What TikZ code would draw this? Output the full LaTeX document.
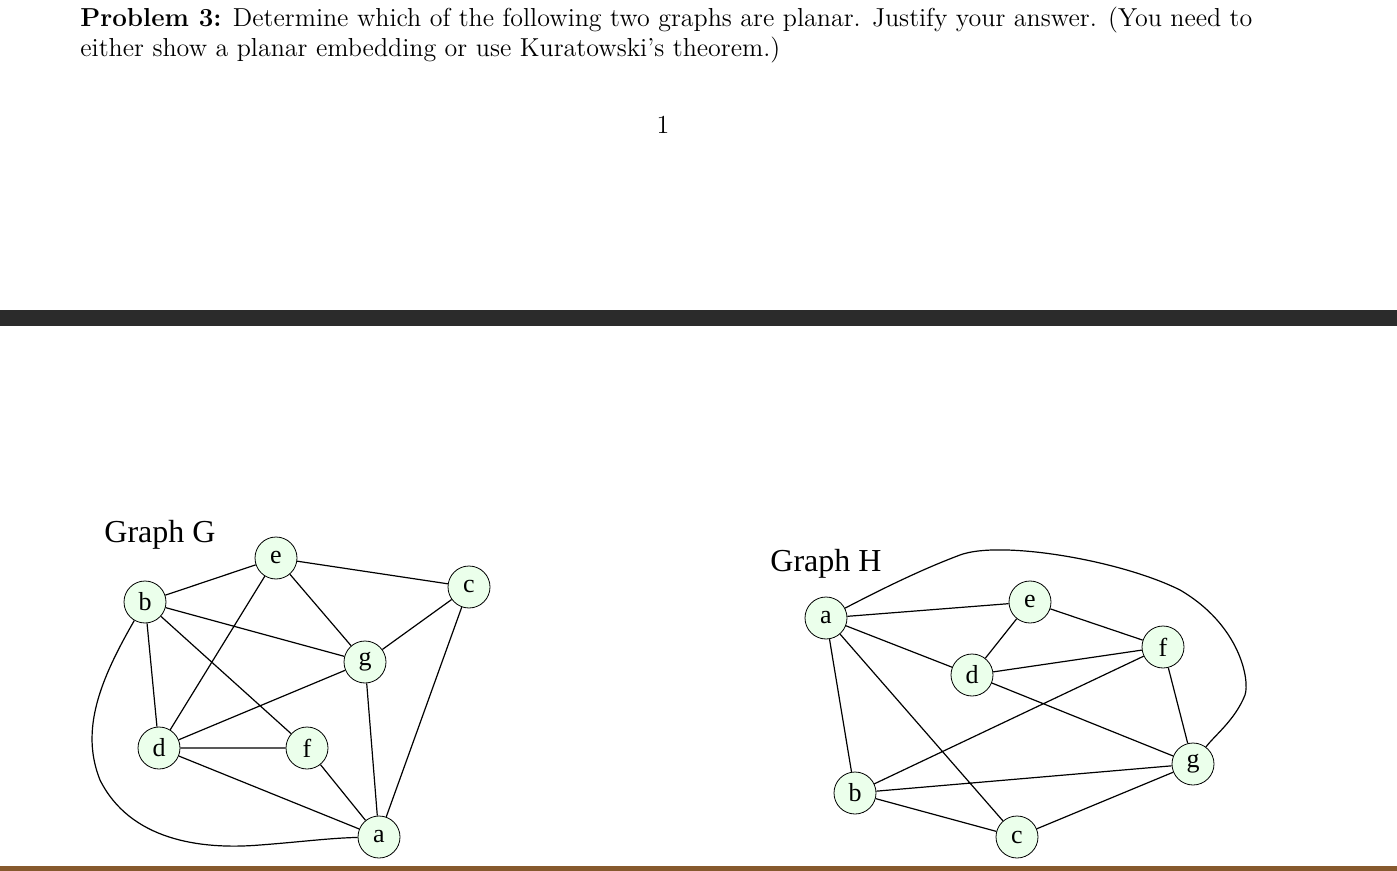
\documentclass[tikz,border=0pt]{standalone}
\usepackage{fontspec}
\newfontfamily\tnr{Liberation Serif}
\begin{document}
\begin{tikzpicture}[x=0.5pt,y=-0.5pt,
  vert/.style={circle,draw,fill=green!8,minimum size=21pt,inner sep=0pt,font=\tnr\fontsize{13}{13}\selectfont},
  edge/.style={line width=0.6pt}]
\useasboundingbox (0,0) rectangle (1397,871);
\fill[black!83] (0,310) rectangle (1397,326);
\fill[brown!70!black] (0,866) rectangle (1397,871);
\node[anchor=west,inner sep=0pt,font=\fontsize{13}{16}\selectfont] (t1) at (80,20) {\textbf{Problem 3:} Determine which of the following two graphs are planar. Justify your answer. (You need to};
\node[anchor=west,inner sep=0pt,font=\fontsize{13}{16}\selectfont] (t2) at (80,50) {either show a planar embedding or use Kuratowski's theorem.)};
\node[font=\fontsize{13}{16}\selectfont] (pg) at (663,125) {1};
\node[font=\tnr\fontsize{16}{16}\selectfont] (lg) at (160,535) {Graph G};
\node[font=\tnr\fontsize{16}{16}\selectfont] (lh) at (826,564) {Graph H};
% Graph G
\node[vert] (Gb) at (145,602) {b};
\node[vert] (Ge) at (276,558) {e};
\node[vert] (Gc) at (469,587) {c};
\node[vert] (Gg) at (365,662) {g};
\node[vert] (Gd) at (159,748) {d};
\node[vert] (Gf) at (307,748) {f};
\node[vert] (Ga) at (379,837) {a};
\draw[edge] (Gb)--(Ge) (Ge)--(Gc) (Ge)--(Gg) (Ge)--(Gd) (Gb)--(Gg) (Gb)--(Gf) (Gb)--(Gd)
 (Gc)--(Gg) (Gc)--(Ga) (Gg)--(Gd) (Gg)--(Ga) (Gd)--(Gf) (Gd)--(Ga) (Gf)--(Ga);
\draw[edge] (Gb) .. controls (100,680) and (80,730) .. (100,780) .. controls (130,840) and (200,850) .. (260,845) .. controls (300,842) and (330,838) .. (Ga);
% Graph H
\node[vert] (Ha) at (826,618) {a};
\node[vert] (He) at (1030,602) {e};
\node[vert] (Hf) at (1163,647) {f};
\node[vert] (Hd) at (972,675) {d};
\node[vert] (Hg) at (1193,764) {g};
\node[vert] (Hb) at (855,793) {b};
\node[vert] (Hc) at (1017,837) {c};
\draw[edge] (Ha)--(He) (Ha)--(Hd) (Ha)--(Hb) (Ha)--(Hc) (He)--(Hd) (He)--(Hf) (Hd)--(Hf)
 (Hd)--(Hg) (Hf)--(Hg) (Hf)--(Hb) (Hb)--(Hg) (Hb)--(Hc) (Hc)--(Hg);
\draw[edge] (Ha) .. controls (880,590) and (920,570) .. (960,555) .. controls (1000,540) and (1120,560) .. (1180,590) .. controls (1240,625) and (1250,680) .. (1245,695) .. controls (1235,720) and (1215,735) .. (Hg);
\end{tikzpicture}
\end{document}
